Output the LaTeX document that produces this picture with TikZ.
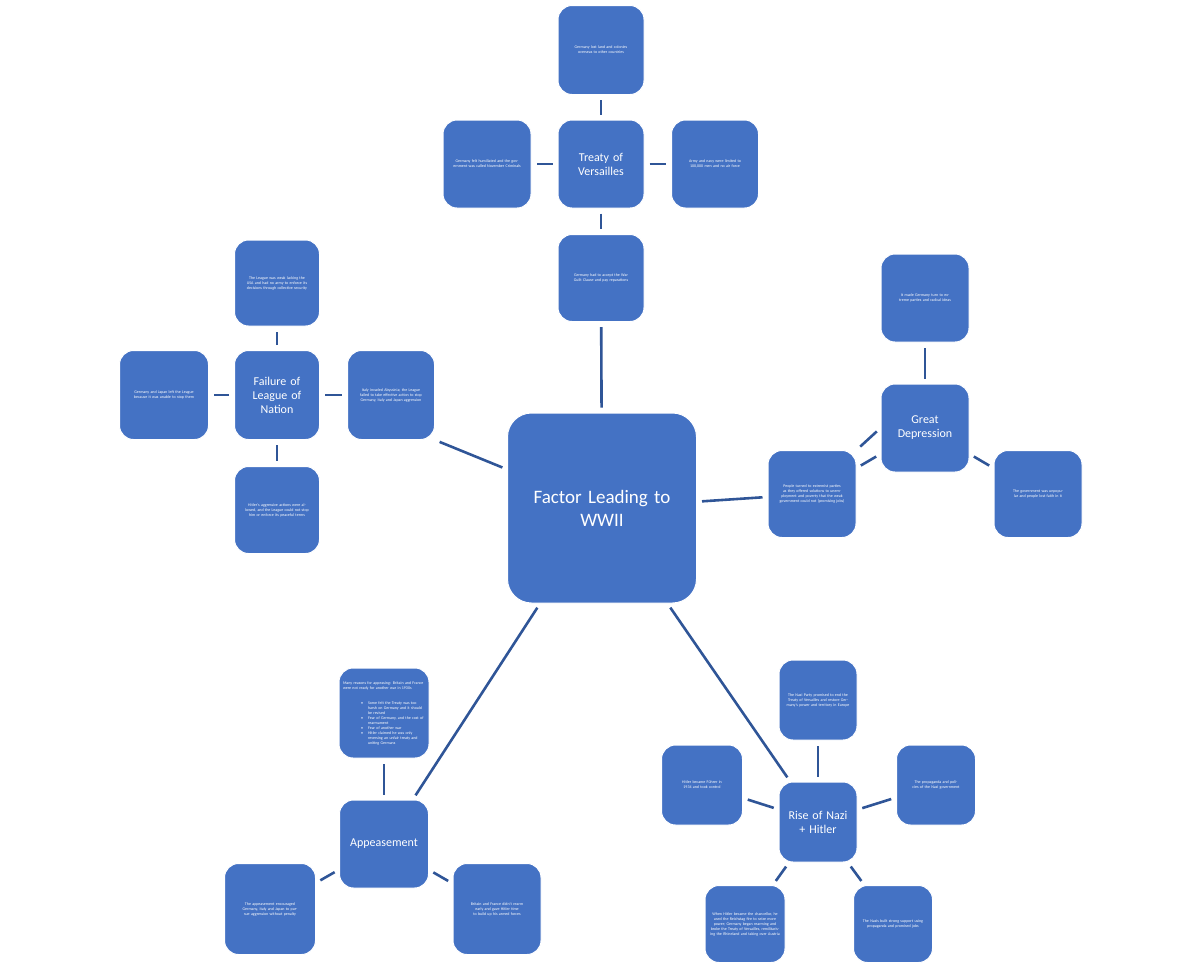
\documentclass[tikz,border=0pt]{standalone}
\usepackage{fontspec}
\setmainfont{Carlito}
\begin{document}
\begin{tikzpicture}[x=1pt,y=-1pt,
  bx/.style={draw=white,line width=1pt,fill=boxblue,rounded corners=14pt,text=white,align=center,inner sep=2pt},
  sm/.style={bx,font=\fontsize{4}{5}\selectfont,text width=70pt},
  hd/.style={bx,font=\fontsize{12}{14}\selectfont,text width=70pt},
  ln/.style={draw=lineblue,line width=2.6pt,shorten >=5pt,shorten <=5pt}]
\definecolor{boxblue}{HTML}{4472C4}
\definecolor{lineblue}{HTML}{2F5597}
\useasboundingbox (0,0) rectangle (1200,967);
\newcommand{\bxx}[6]{\node[#1,minimum width=#4pt,minimum height=#5pt] (#2) at (#3) {#6};}
% main
\node[bx,rounded corners=24pt,minimum width=189pt,minimum height=190pt,font=\fontsize{19}{23}\selectfont,text width=170pt] (main) at (602,508) {Factor Leading to\\WWII};
% Treaty
\bxx{hd}{tv}{601,164}{86}{88}{Treaty of\\Versailles}
\bxx{sm}{tvt}{601,50}{86}{89}{Germany lost land and colonies overseas to other countries\\[18pt]}
\bxx{sm}{tvl}{487,164}{88}{88}{Germany felt humiliated and the government was called November Criminals}
\bxx{sm}{tvr}{715,164}{87}{88}{Army and navy were limited to 100,000 men and no air force}
\bxx{sm}{tvb}{601,278}{86}{87}{Germany had to accept the War Guilt Clause and pay reparations\\[14pt]}
% League
\bxx{hd}{lg}{277,395}{85}{89}{Failure of\\League of\\Nation}
\bxx{sm}{lgt}{277,283}{85}{86}{The League was weak lacking the USA and had no army to enforce its decisions through collective security\\[14pt]}
\bxx{sm}{lgl}{164,395}{89}{89}{Germany and Japan left the League because it was unable to stop them}
\bxx{sm}{lgr}{391,395}{87}{89}{Italy invaded Abyssinia; the League failed to take effective action to stop Germany, Italy and Japan aggression}
\bxx{sm}{lgb}{277,510}{85}{87}{Hitler's aggressive actions were allowed, and the League could not stop him or enforce its peaceful terms}
% Great Depression
\bxx{hd}{gd}{925,428}{88}{88}{Great\\Depression}
\bxx{sm}{gdt}{925,298}{88}{88}{It made Germany turn to extreme parties and radical ideas\\[14pt]}
\bxx{sm}{gdl}{812,494}{88}{87}{People turned to extremist parties as they offered solutions to unemployment and poverty that the weak government could not (promising jobs)}
\bxx{sm}{gdr}{1038,494}{88}{87}{The government was unpopular and people lost faith in it}
% Appeasement
\bxx{hd}{ap}{384,844}{89}{88}{Appeasement}
\node[sm,minimum width=90pt,minimum height=90pt,align=left,text width=82pt] (apt) at (384,713) {Many reasons for appeasing: Britain and France were not ready for another war in 1930s\\[-1pt]
\begin{itemize}\setlength{\itemsep}{0pt}\setlength{\parskip}{0pt}\setlength{\leftmargin}{8pt}\itemindent=0pt
\item Some felt the Treaty was too harsh on Germany and it should be revised
\item Fear of Germany, and the cost of rearmament
\item Fear of another war
\item Hitler claimed he was only reversing an unfair treaty and uniting Germans
\end{itemize}};
\bxx{sm}{apl}{270,909}{91}{91}{The appeasement encouraged Germany, Italy and Japan to pursue aggression without penalty}
\bxx{sm}{apr}{497,909}{88}{91}{Britain and France didn't rearm early and gave Hitler time to build up his armed forces}
% Nazi
\bxx{hd}{nz}{818,822}{78}{80}{Rise of Nazi\\+ Hitler}
\node[sm,minimum width=78pt,minimum height=80pt,text width=64pt] (nzt) at (818,700) {The Nazi Party promised to end the Treaty of Versailles and restore Germany's power and territory in Europe\\[8pt]};
\node[sm,minimum width=81pt,minimum height=80pt,text width=66pt] (nzl) at (702,785) {Hitler became Führer in 1934 and took control\\[14pt]};
\node[sm,minimum width=79pt,minimum height=80pt,text width=66pt] (nzr) at (936,785) {The propaganda and policies of the Nazi government\\[14pt]};
\node[sm,minimum width=80pt,minimum height=77pt,text width=70pt] (nzbl) at (745,924) {When Hitler became the chancellor, he used the Reichstag fire to seize more power; Germany began rearming and broke the Treaty of Versailles, remilitarising the Rhineland and taking over Austria};
\node[sm,minimum width=79pt,minimum height=77pt,text width=66pt] (nzbr) at (893,924) {The Nazis built strong support using propaganda and promised jobs};
% connectors
\draw[ln] (tv)--(tvt); \draw[ln] (tv)--(tvl); \draw[ln] (tv)--(tvr); \draw[ln] (tv)--(tvb);
\draw[ln] (tvb)--(main);
\draw[ln] (lg)--(lgt); \draw[ln] (lg)--(lgl); \draw[ln] (lg)--(lgr); \draw[ln] (lg)--(lgb);
\draw[ln] (lgr.south east)--(main);
\draw[ln] (gd)--(gdt); \draw[ln] (gd)--(gdl); \draw[ln] (gd)--(gdr);
\draw[ln] (gdl)--(main);
\draw[ln] (gd.west)--(gdl.north east);
\draw[ln] (ap)--(apt); \draw[ln] (ap)--(apl); \draw[ln] (ap)--(apr);
\draw[ln] (ap)--(main);
\draw[ln] (nz)--(nzt); \draw[ln] (nz)--(nzl); \draw[ln] (nz)--(nzr); \draw[ln] (nz)--(nzbl); \draw[ln] (nz)--(nzbr);
\draw[ln] (nz)--(main);
\end{tikzpicture}
\end{document}
